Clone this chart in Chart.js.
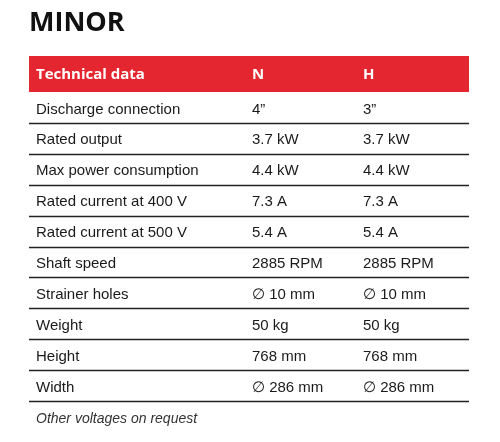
<!DOCTYPE html>
<html><head><meta charset="utf-8">
<script src="https://cdn.jsdelivr.net/npm/chart.js@4"></script>
<style>html,body{margin:0;padding:0;background:#fff}#w{width:500px;height:442px;position:relative}</style>
</head><body><div id="w"><canvas id="c"></canvas></div>
<script>
const title = "MINOR";
const headers = ["Technical data", "N", "H"];
const rows = ["Discharge connection","Rated output","Max power consumption","Rated current at 400 V","Rated current at 500 V","Shaft speed","Strainer holes","Weight","Height","Width"];
const colN = ["4\u201d","3.7 kW","4.4 kW","7.3 A","5.4 A","2885 RPM","\u2205 10 mm","50 kg","768 mm","\u2205 286 mm"];
const colH = ["3\u201d","3.7 kW","4.4 kW","7.3 A","5.4 A","2885 RPM","\u2205 10 mm","50 kg","768 mm","\u2205 286 mm"];
const footer = "Other voltages on request";
const colX = [0, 1, 1.514];

const tablePlugin = {
  id: 'table',
  afterDraw(chart) {
    const {ctx, chartArea: a, scales: {x, y}} = chart;
    ctx.save();
    ctx.fillStyle = '#111';
    ctx.font = 'bold 27px "Open Sans"';
    ctx.textBaseline = 'alphabetic';
    ctx.fillText(title, 29, 31);
    ctx.fillStyle = '#e3262f';
    ctx.fillRect(a.left, 56, a.right - a.left, a.top - 56);
    ctx.fillStyle = '#fff';
    ctx.font = 'bold 15px "Open Sans"';
    ctx.textBaseline = 'middle';
    headers.forEach((h, i) => ctx.fillText(h, x.getPixelForValue(colX[i]), 75));
    ctx.font = '15px "Liberation Sans"';
    ctx.fillStyle = '#1a1a1a';
    rows.forEach((r, i) => {
      const py = y.getPixelForValue(i) + 2;
      ctx.fillText(r, x.getPixelForValue(colX[0]), py);
      ctx.fillText(colN[i], x.getPixelForValue(colX[1]), py);
      ctx.fillText(colH[i], x.getPixelForValue(colX[2]), py);
    });
    ctx.strokeStyle = '#222';
    ctx.lineWidth = 1.5;
    const step = (a.bottom - a.top) / rows.length;
    for (let i = 1; i <= rows.length; i++) {
      const ly = Math.round(a.top + i * step) + 0.5;
      ctx.beginPath(); ctx.moveTo(a.left, ly); ctx.lineTo(a.right, ly); ctx.stroke();
    }
    ctx.font = 'italic 14px "Liberation Sans"';
    ctx.fillStyle = '#333';
    ctx.fillText(footer, x.getPixelForValue(colX[0]), 419);
    ctx.restore();
  }
};

new Chart(document.getElementById('c'), {
  type: 'scatter',
  data: { datasets: [{ data: [], showLine: false }] },
  options: {
    responsive: true, maintainAspectRatio: false, animation: false,
    layout: { padding: { top: 92, bottom: 41, left: 29, right: 31 } },
    plugins: { legend: { display: false }, tooltip: { enabled: false } },
    scales: {
      x: { type: 'linear', display: false, min: -0.0324, max: 2.005 },
      y: { type: 'category', labels: rows, display: false, offset: true }
    }
  },
  plugins: [tablePlugin]
});
</script></body></html>
